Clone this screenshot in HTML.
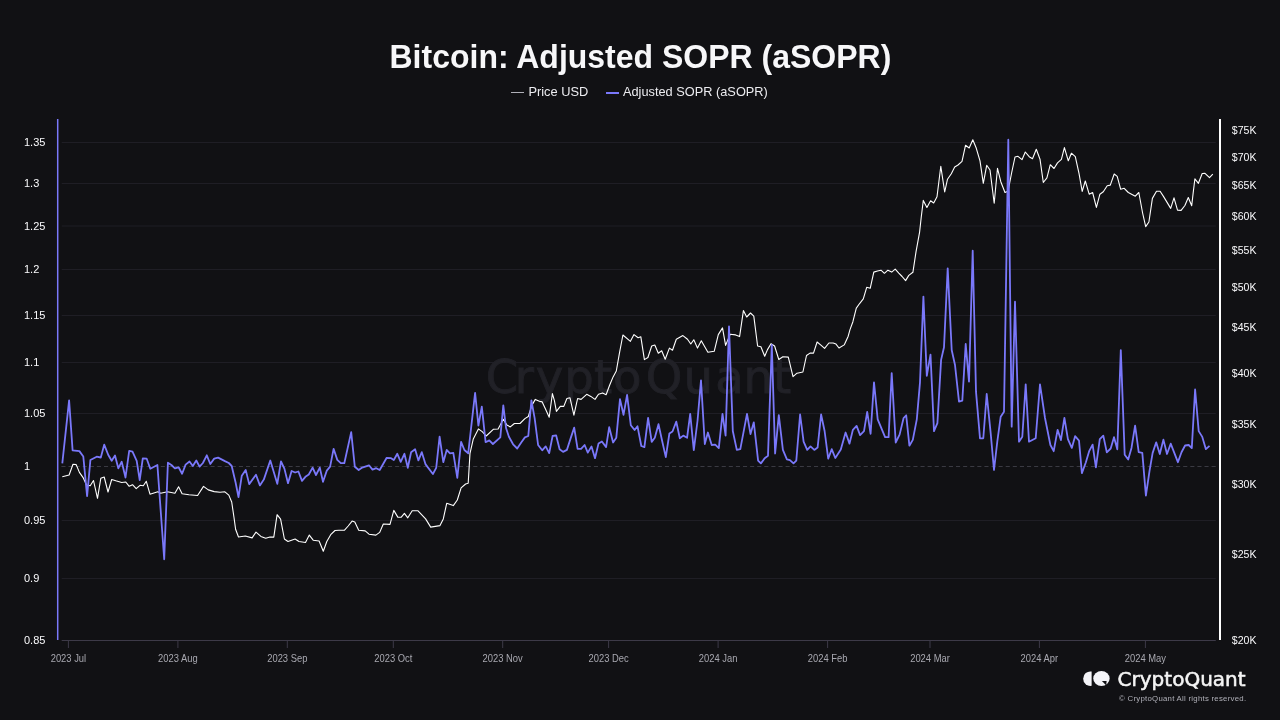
<!DOCTYPE html>
<html><head><meta charset="utf-8"><style>
html,body{margin:0;padding:0;width:1280px;height:720px;overflow:hidden;background:#111114;}
svg{display:block}
svg{will-change:transform}
text{font-family:"Liberation Sans",Arial,sans-serif;}
.title{font-size:33.5px;font-weight:bold;fill:#f7f7f9}
.lg{font-size:13.6px;fill:#ececf0}
.al{font-size:11px;fill:#fafafc}
.xl{font-size:10px;fill:#a8a8b0}
.logo{font-size:20px;fill:#f5f5f5;stroke:#f5f5f5;stroke-width:0.55px;font-family:"DejaVu Sans",sans-serif}
.wm{font-family:"DejaVu Sans",sans-serif;font-size:46.5px;fill:#212127;stroke:#212127;stroke-width:0.9px}
.copy{font-size:7.8px;fill:#b0b0b8}
</style></head><body>
<svg width="1280" height="720" viewBox="0 0 1280 720">
<line x1="61.7" x2="1215.8" y1="142.5" y2="142.5" stroke="#1f1e25" stroke-width="1"/>
<line x1="61.7" x2="1215.8" y1="183.5" y2="183.5" stroke="#1f1e25" stroke-width="1"/>
<line x1="61.7" x2="1215.8" y1="226.0" y2="226.0" stroke="#1f1e25" stroke-width="1"/>
<line x1="61.7" x2="1215.8" y1="269.5" y2="269.5" stroke="#1f1e25" stroke-width="1"/>
<line x1="61.7" x2="1215.8" y1="315.5" y2="315.5" stroke="#1f1e25" stroke-width="1"/>
<line x1="61.7" x2="1215.8" y1="362.5" y2="362.5" stroke="#1f1e25" stroke-width="1"/>
<line x1="61.7" x2="1215.8" y1="413.5" y2="413.5" stroke="#1f1e25" stroke-width="1"/>
<line x1="61.7" x2="1215.8" y1="520.5" y2="520.5" stroke="#1f1e25" stroke-width="1"/>
<line x1="61.7" x2="1215.8" y1="578.5" y2="578.5" stroke="#1f1e25" stroke-width="1"/>
<text x="485.65 514.8 535.85 564.3 593.9 613 645.8 683.5 715.2 743.45 773" y="392.5" class="wm">CryptoQuant</text>
<line x1="61.4" x2="1215.8" y1="466.5" y2="466.5" stroke="#3a3a42" stroke-width="1" stroke-dasharray="4.1 3.0"/>
<line x1="61.7" x2="1215.8" y1="640.5" y2="640.5" stroke="#3d3a48" stroke-width="1"/>
<line x1="68.4" x2="68.4" y1="641" y2="648" stroke="#3d3a48" stroke-width="1"/>
<text transform="translate(68.4,662) scale(0.94,1)" text-anchor="middle" class="xl">2023 Jul</text>
<line x1="177.9" x2="177.9" y1="641" y2="648" stroke="#3d3a48" stroke-width="1"/>
<text transform="translate(177.9,662) scale(0.94,1)" text-anchor="middle" class="xl">2023 Aug</text>
<line x1="287.3" x2="287.3" y1="641" y2="648" stroke="#3d3a48" stroke-width="1"/>
<text transform="translate(287.3,662) scale(0.94,1)" text-anchor="middle" class="xl">2023 Sep</text>
<line x1="393.3" x2="393.3" y1="641" y2="648" stroke="#3d3a48" stroke-width="1"/>
<text transform="translate(393.3,662) scale(0.94,1)" text-anchor="middle" class="xl">2023 Oct</text>
<line x1="502.7" x2="502.7" y1="641" y2="648" stroke="#3d3a48" stroke-width="1"/>
<text transform="translate(502.7,662) scale(0.94,1)" text-anchor="middle" class="xl">2023 Nov</text>
<line x1="608.6" x2="608.6" y1="641" y2="648" stroke="#3d3a48" stroke-width="1"/>
<text transform="translate(608.6,662) scale(0.94,1)" text-anchor="middle" class="xl">2023 Dec</text>
<line x1="718.1" x2="718.1" y1="641" y2="648" stroke="#3d3a48" stroke-width="1"/>
<text transform="translate(718.1,662) scale(0.94,1)" text-anchor="middle" class="xl">2024 Jan</text>
<line x1="827.6" x2="827.6" y1="641" y2="648" stroke="#3d3a48" stroke-width="1"/>
<text transform="translate(827.6,662) scale(0.94,1)" text-anchor="middle" class="xl">2024 Feb</text>
<line x1="930.0" x2="930.0" y1="641" y2="648" stroke="#3d3a48" stroke-width="1"/>
<text transform="translate(930.0,662) scale(0.94,1)" text-anchor="middle" class="xl">2024 Mar</text>
<line x1="1039.4" x2="1039.4" y1="641" y2="648" stroke="#3d3a48" stroke-width="1"/>
<text transform="translate(1039.4,662) scale(0.94,1)" text-anchor="middle" class="xl">2024 Apr</text>
<line x1="1145.4" x2="1145.4" y1="641" y2="648" stroke="#3d3a48" stroke-width="1"/>
<text transform="translate(1145.4,662) scale(0.94,1)" text-anchor="middle" class="xl">2024 May</text>
<text x="24" y="146.2" class="al">1.35</text>
<text x="24" y="187.2" class="al">1.3</text>
<text x="24" y="229.7" class="al">1.25</text>
<text x="24" y="273.2" class="al">1.2</text>
<text x="24" y="319.2" class="al">1.15</text>
<text x="24" y="366.2" class="al">1.1</text>
<text x="24" y="417.2" class="al">1.05</text>
<text x="24" y="470.2" class="al">1</text>
<text x="24" y="524.2" class="al">0.95</text>
<text x="24" y="582.2" class="al">0.9</text>
<text x="24" y="644.2" class="al">0.85</text>
<text transform="translate(1231.8,134.2) scale(0.96,1)" class="al">$75K</text>
<text transform="translate(1231.8,160.8) scale(0.96,1)" class="al">$70K</text>
<text transform="translate(1231.8,189.4) scale(0.96,1)" class="al">$65K</text>
<text transform="translate(1231.8,220.2) scale(0.96,1)" class="al">$60K</text>
<text transform="translate(1231.8,253.8) scale(0.96,1)" class="al">$55K</text>
<text transform="translate(1231.8,290.5) scale(0.96,1)" class="al">$50K</text>
<text transform="translate(1231.8,331.2) scale(0.96,1)" class="al">$45K</text>
<text transform="translate(1231.8,376.6) scale(0.96,1)" class="al">$40K</text>
<text transform="translate(1231.8,428.1) scale(0.96,1)" class="al">$35K</text>
<text transform="translate(1231.8,487.5) scale(0.96,1)" class="al">$30K</text>
<text transform="translate(1231.8,557.8) scale(0.96,1)" class="al">$25K</text>
<text transform="translate(1231.8,643.9) scale(0.96,1)" class="al">$20K</text>
<line x1="57.7" x2="57.7" y1="119" y2="640" stroke="#7a78fa" stroke-width="1.5"/>
<line x1="1220" x2="1220" y1="119" y2="640" stroke="#ffffff" stroke-width="2"/>
<polyline fill="none" stroke="#ffffff" stroke-width="1.1" stroke-linejoin="round" points="62.3,476.8 69.1,475.0 73.0,464.3 76.2,464.6 79.4,472.4 83.3,477.9 86.5,485.0 90.2,485.7 93.5,480.5 97.5,498.3 100.8,478.3 104.2,477.0 108.0,492.0 111.7,479.5 115.8,480.8 121.7,482.5 125.8,482.0 129.2,486.3 132.5,484.7 136.2,488.7 140.0,485.3 143.3,485.8 146.3,481.3 150.0,494.2 157.8,491.8 160.7,493.2 167.5,491.8 174.9,493.2 178.6,486.8 182.1,493.8 188.9,494.8 197.6,495.5 203.5,486.4 208.3,489.9 214.2,491.6 220.0,492.2 224.9,491.8 228.8,495.1 231.7,502.0 234.0,517.5 235.6,529.2 238.5,537.0 245.3,536.0 252.1,537.9 256.0,532.1 260.9,536.4 265.7,538.3 270.0,537.0 273.8,537.1 277.1,514.7 280.6,519.2 284.4,539.0 288.0,541.5 295.1,539.0 299.0,541.5 305.5,542.5 309.3,535.1 313.2,540.2 319.1,541.0 323.3,551.3 326.8,541.5 330.7,534.7 335.0,530.5 338.9,530.3 344.3,530.3 348.2,526.0 352.1,521.1 354.8,522.1 358.7,530.3 365.2,530.9 369.0,534.2 375.9,535.1 379.7,532.4 383.3,524.0 390.0,524.4 393.8,510.4 397.8,517.1 401.1,517.3 404.4,513.3 407.8,517.8 412.2,510.7 417.8,510.7 425.6,518.9 430.7,527.1 440.0,525.6 443.3,518.9 446.7,503.3 453.3,505.6 457.3,500.0 461.1,487.8 465.6,484.0 468.2,483.3 470.0,453.3 473.3,438.9 478.4,428.9 482.2,431.6 486.2,436.0 493.3,429.3 498.1,429.0 503.3,419.3 506.8,424.9 510.3,426.9 514.4,423.5 520.0,423.5 524.9,418.6 528.3,416.5 531.8,405.4 535.3,399.4 539.4,401.3 542.2,401.9 545.7,409.6 549.2,417.2 552.4,393.6 554.4,400.6 556.4,411.4 560.3,406.4 563.8,406.4 566.9,398.5 570.0,397.8 573.9,415.1 577.6,398.5 581.1,399.4 586.7,394.3 590.8,396.4 595.0,399.4 598.5,394.3 602.6,392.9 606.1,394.7 609.6,385.3 613.1,376.9 616.3,371.0 619.4,353.3 622.9,335.0 630.4,341.3 634.0,334.6 638.1,337.7 640.8,336.7 644.4,359.6 647.9,357.5 651.7,346.0 654.8,345.0 658.3,353.3 661.7,350.8 665.2,359.2 669.4,348.1 672.5,350.2 676.3,339.2 682.9,335.6 687.5,339.2 690.8,344.0 693.8,339.8 697.5,348.1 701.3,340.8 707.9,352.3 714.2,351.3 718.3,334.6 722.5,327.9 725.6,345.4 730.2,334.2 735.6,334.9 739.6,336.6 743.4,310.6 746.7,317.0 750.5,313.0 753.8,316.1 757.6,346.0 760.9,346.8 764.7,356.2 767.5,349.6 771.0,343.7 774.6,346.0 778.8,359.5 782.9,356.7 788.3,357.1 793.0,376.7 797.0,373.2 802.9,372.0 806.5,355.5 810.0,353.1 813.5,353.1 817.1,342.0 820.6,344.9 824.6,348.4 828.9,343.0 833.1,343.0 836.0,344.1 839.0,348.0 844.2,344.9 848.2,336.2 850.0,329.6 852.9,321.7 856.3,308.1 859.8,303.3 863.3,298.8 866.7,287.3 870.2,288.3 873.8,272.1 877.5,271.0 881.0,270.2 884.4,273.3 887.9,270.2 891.7,272.1 895.2,269.2 898.8,273.1 902.1,276.5 905.6,280.6 908.8,275.4 912.9,272.3 916.0,251.9 919.6,232.1 921.2,217.5 923.3,200.4 926.9,207.5 930.6,200.8 933.7,203.0 937.0,196.7 940.8,166.3 944.7,192.0 947.5,179.2 951.3,173.7 954.7,167.0 958.0,165.0 962.0,161.3 965.5,145.3 969.2,148.0 972.8,139.7 976.3,148.3 980.0,160.8 983.3,183.3 986.7,165.3 990.0,170.0 994.2,203.3 997.5,168.3 1000.8,181.7 1005.0,192.5 1008.0,191.3 1011.7,172.5 1015.0,157.0 1018.0,156.3 1022.0,159.7 1025.3,152.0 1029.2,156.7 1032.5,158.7 1036.3,149.2 1040.0,159.2 1043.3,182.5 1046.9,177.9 1050.3,164.7 1054.0,168.5 1057.5,162.9 1061.4,159.4 1064.4,147.6 1068.3,160.8 1071.4,153.2 1075.3,156.7 1079.0,173.3 1082.2,191.4 1085.3,181.0 1089.2,194.2 1092.6,192.5 1096.4,207.4 1099.9,194.2 1103.3,191.7 1107.2,185.8 1110.3,185.1 1114.2,174.0 1117.2,176.4 1120.7,189.3 1124.2,188.3 1128.3,192.5 1135.3,196.2 1138.8,192.5 1142.6,213.0 1145.7,226.6 1148.9,222.0 1152.4,198.4 1156.5,191.3 1160.1,191.3 1163.6,196.6 1170.7,208.4 1174.0,197.8 1177.5,210.2 1181.1,210.4 1184.9,205.5 1188.3,197.5 1191.7,205.8 1193.2,192.6 1194.9,178.8 1198.4,183.3 1202.2,173.5 1205.0,173.3 1209.5,177.7 1212.8,174.2"/>
<polyline fill="none" stroke="#7a78fa" stroke-width="1.8" stroke-linejoin="round" points="62.3,463.3 69.1,400.4 72.6,450.4 79.4,451.1 83.3,456.5 87.1,496.2 90.4,460.0 96.7,456.7 100.8,457.5 104.2,444.7 108.3,455.0 111.7,460.8 115.0,455.5 118.3,468.3 121.7,461.7 125.5,477.5 129.2,450.8 132.5,451.7 136.7,460.8 139.7,480.0 142.8,458.3 146.7,458.7 150.3,468.7 157.4,465.0 164.2,559.3 167.9,462.7 171.4,465.0 174.9,468.3 178.6,467.3 182.1,473.8 185.6,464.6 189.5,461.5 192.8,466.0 196.3,460.5 199.6,466.6 202.9,463.0 206.8,455.3 210.3,464.0 214.2,458.6 218.1,457.6 222.0,459.6 224.9,461.1 228.8,463.0 231.7,466.0 235.6,482.5 238.5,497.1 241.8,475.7 245.7,469.9 249.2,484.1 256.0,474.7 259.9,485.4 263.8,479.6 270.3,460.5 277.3,483.8 281.0,461.4 284.4,468.6 288.0,483.2 291.6,471.0 295.1,472.5 298.4,471.5 302.0,480.9 305.8,476.4 308.8,474.5 312.6,467.6 316.0,475.0 319.8,467.6 323.0,481.8 326.8,470.6 330.1,466.7 333.6,448.8 337.3,459.9 340.8,463.2 344.3,463.2 351.2,432.1 354.8,466.7 358.7,470.0 362.2,467.6 369.0,465.3 372.5,469.6 376.2,468.2 379.7,470.0 386.7,457.8 391.1,458.2 393.8,460.0 397.3,453.8 400.7,461.8 404.4,453.8 407.8,467.8 411.1,452.2 415.1,449.3 418.4,460.4 421.8,452.2 425.6,464.4 432.9,474.0 436.2,467.8 439.6,436.7 443.3,462.2 446.7,450.0 450.0,453.3 453.3,452.9 457.3,477.8 461.1,441.8 464.4,450.0 468.2,453.3 475.1,392.9 478.4,425.6 481.8,406.7 485.6,442.2 489.3,440.4 492.9,444.0 500.3,437.4 503.3,405.4 506.1,428.3 508.9,436.7 513.1,444.3 517.2,448.5 521.4,442.2 524.9,437.4 528.3,436.0 531.4,400.3 534.6,417.9 538.1,445.0 542.2,450.3 545.7,446.4 549.2,453.1 552.6,436.0 556.1,435.3 559.6,449.2 563.1,451.9 566.9,449.9 570.7,438.1 574.2,427.6 577.6,448.9 581.1,448.9 584.6,445.0 587.8,452.6 591.5,446.4 595.0,458.2 598.5,443.6 601.9,441.5 606.1,447.1 609.2,427.2 613.1,442.5 616.3,437.7 620.0,399.2 623.5,414.8 627.1,395.0 630.8,425.2 634.6,430.0 637.5,426.3 641.3,446.0 644.4,447.1 648.1,417.9 651.7,441.9 654.8,437.7 658.5,424.2 662.1,440.8 665.8,457.1 669.4,433.5 672.5,431.5 676.3,421.7 679.8,438.3 683.3,435.6 687.1,437.7 690.2,413.8 693.8,450.2 697.5,421.0 701.0,380.4 704.8,444.0 707.9,432.5 711.7,445.0 715.2,444.6 718.8,448.1 722.5,413.8 725.6,435.6 729.0,326.4 732.8,431.0 736.8,449.9 740.3,449.2 747.0,413.8 750.5,434.1 753.8,422.3 758.1,460.6 760.9,463.4 764.7,458.2 768.0,455.8 771.8,344.9 775.1,453.5 778.8,415.2 782.9,449.9 786.9,459.4 789.9,460.1 793.5,463.4 796.3,460.6 800.1,414.5 803.6,441.7 807.2,449.9 810.5,446.4 814.3,449.9 817.6,447.6 821.1,414.5 824.6,431.0 828.2,458.7 831.7,449.2 835.3,458.0 840.8,449.6 845.6,432.5 849.5,443.6 852.9,429.8 856.6,425.9 860.1,435.1 864.0,431.2 867.2,411.9 870.6,433.8 874.0,382.3 877.7,419.3 885.1,437.2 888.6,437.2 891.7,373.1 895.7,442.5 899.6,434.6 903.6,418.0 906.2,415.3 909.4,445.7 912.8,439.9 916.8,419.3 920.0,382.3 923.4,296.6 926.8,375.8 930.5,354.6 934.0,431.2 937.4,423.2 941.1,359.9 944.0,347.3 947.7,268.3 951.7,350.0 955.0,365.0 959.0,401.7 962.3,400.7 965.7,344.0 969.0,381.7 972.7,250.7 976.0,391.7 980.0,438.3 983.3,438.3 986.7,394.0 990.7,433.3 994.0,470.0 997.3,441.7 1000.7,416.7 1004.0,411.7 1008.3,139.7 1011.7,426.7 1015.0,301.7 1019.0,441.7 1022.3,436.7 1025.7,384.3 1029.0,441.7 1035.7,438.3 1040.0,384.3 1045.0,418.0 1050.4,445.0 1053.7,451.2 1057.6,429.8 1060.9,440.1 1064.4,417.8 1067.9,439.1 1071.8,447.9 1075.1,436.2 1079.0,440.7 1081.9,473.2 1085.8,462.5 1089.3,450.8 1092.6,444.6 1095.9,467.3 1099.8,439.1 1103.3,435.6 1106.8,452.4 1110.7,448.5 1114.0,437.2 1117.3,449.3 1120.8,350.1 1124.7,454.7 1128.2,459.6 1131.5,447.9 1135.1,425.7 1138.7,452.2 1142.3,452.8 1145.9,495.6 1149.5,471.2 1152.6,453.1 1156.2,442.3 1159.8,454.0 1163.4,439.6 1167.0,454.0 1170.7,443.7 1177.9,462.2 1181.5,452.2 1185.1,445.5 1188.7,445.0 1191.8,448.1 1195.1,389.5 1198.7,431.1 1202.3,436.9 1205.9,449.2 1209.5,445.9"/>
<text transform="translate(640.4,68) scale(0.955,1)" text-anchor="middle" class="title">Bitcoin: Adjusted SOPR (aSOPR)</text>
<line x1="511" x2="524" y1="92.5" y2="92.5" stroke="#b0b0b8" stroke-width="1"/>
<text transform="translate(528.4,96.3) scale(0.944,1)" class="lg">Price USD</text>
<line x1="606" x2="619" y1="93" y2="93" stroke="#7a78fa" stroke-width="2"/>
<text transform="translate(623.0,96.3) scale(0.94,1)" class="lg">Adjusted SOPR (aSOPR)</text>

<path d="M1091.6,671.5 A7.25,7.25 0 1 0 1091.6,685.8 Z" fill="#f4f4f8"/>
<ellipse cx="1101.45" cy="678.55" rx="8.2" ry="7.45" fill="#f4f4f8"/>
<path d="M1101.9,681.1 L1106.6,681.1 L1106.3,685.4 Z" fill="#111114"/>
<text x="1117.6" y="686.1" class="logo">CryptoQuant</text>
<text x="1119.1" y="701.2" class="copy" textLength="127" lengthAdjust="spacing">© CryptoQuant All rights reserved.</text>

</svg>
</body></html>
